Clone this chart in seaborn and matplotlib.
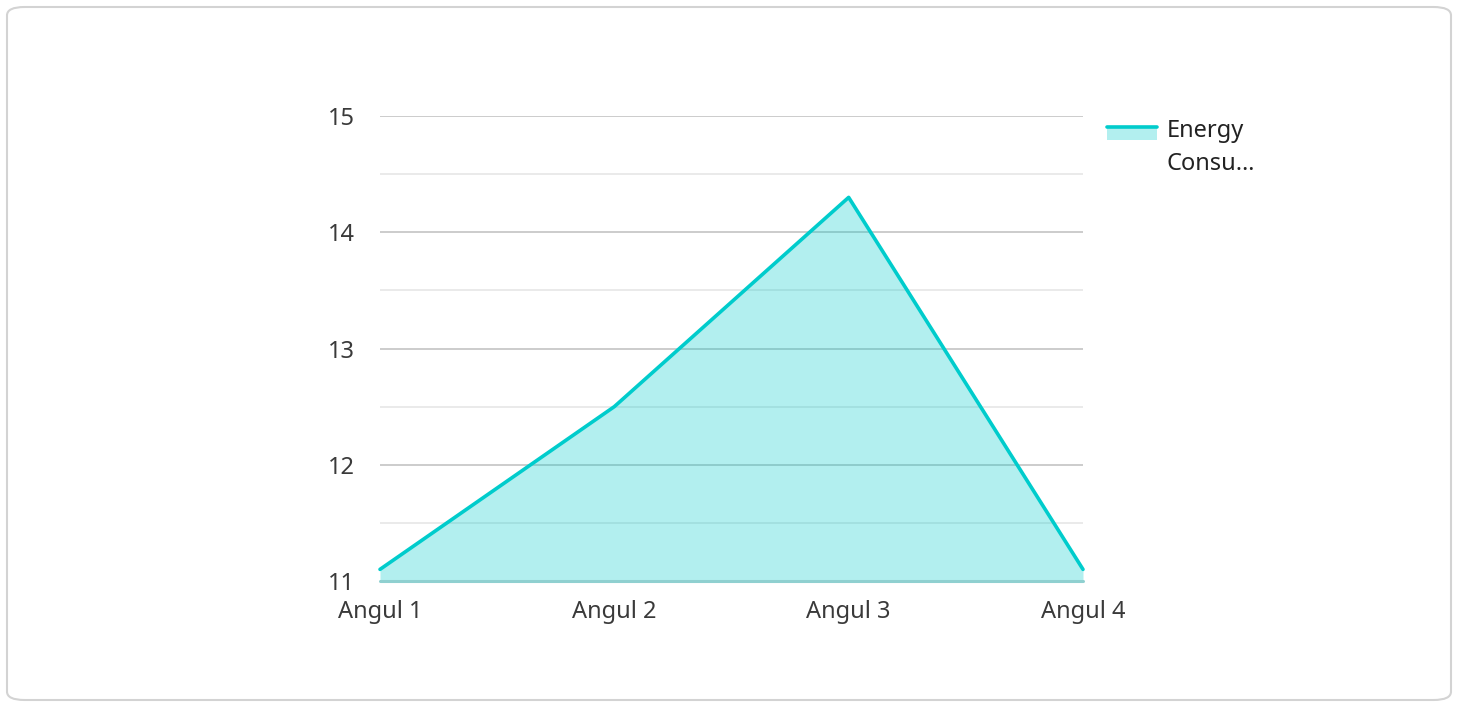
import matplotlib
matplotlib.use("Agg")
import matplotlib.pyplot as plt
import numpy as np
import pandas as pd
import seaborn as sns
from matplotlib.patches import FancyBboxPatch, Rectangle
from matplotlib.lines import Line2D
from matplotlib.ticker import MultipleLocator

categories = ['Angul 1', 'Angul 2', 'Angul 3', 'Angul 4']
energy = [11.1, 12.5, 14.3, 11.1]
series_name = 'Energy\nConsu…'

line_color = '#00CCCC'
W, H = 1458, 702

sns.set_theme(style='white')
plt.rcParams['font.family'] = ['Noto Sans', 'DejaVu Sans']

df = pd.DataFrame({'x': np.arange(len(categories)), 'y': energy})

fig = plt.figure(figsize=(W / 100, H / 100), dpi=100)
card = FancyBboxPatch((7 / W, 2 / H), 1444 / W, 693 / H,
                      boxstyle='round,pad=0,rounding_size=0.012',
                      transform=fig.transFigure, facecolor='none',
                      edgecolor='#d3d3d3', linewidth=1.5, zorder=-10)
fig.patches.append(card)

ax = fig.add_axes([380 / W, 121 / H, 703 / W, 465 / H])
ax.set_facecolor('none')

ax.fill_between(df['x'], 11, df['y'], color=line_color, alpha=0.3, linewidth=0, zorder=2)
sns.lineplot(data=df, x='x', y='y', ax=ax, color=line_color, linewidth=2.6,
             zorder=3, clip_on=False)

ax.set_xlim(0, 3)
ax.set_ylim(11, 15)
ax.yaxis.set_major_locator(MultipleLocator(1))
ax.yaxis.set_minor_locator(MultipleLocator(0.5))
ax.grid(which='major', axis='y', color='#c4c4c4', linewidth=1.2, zorder=1)
ax.grid(which='minor', axis='y', color='#e6e6e6', linewidth=1.2, zorder=1)
ax.grid(False, axis='x')
ax.axhline(11, color='#8fd0d0', linewidth=2.2, zorder=2.5, clip_on=False)
ax.set_axisbelow(True)
for s in ax.spines.values():
    s.set_visible(False)

ax.set_xticks(df['x'])
ax.set_xticklabels(categories)
ax.tick_params(axis='both', which='both', length=0, labelsize=17, labelcolor='#3a3a3a')
ax.tick_params(axis='y', pad=18)
ax.tick_params(axis='x', pad=14)
ax.set_xlabel('')
ax.set_ylabel('')
ax.get_legend() and ax.get_legend().remove()

# legend drawn by hand: filled swatch with the line on its top edge
fig.patches.append(Rectangle((1107 / W, 1 - 140 / H), 50 / W, 14 / H,
                             transform=fig.transFigure, facecolor=line_color,
                             alpha=0.3, linewidth=0))
fig.lines.append(Line2D([1107 / W, 1157 / W], [1 - 127 / H, 1 - 127 / H],
                        transform=fig.transFigure, color=line_color, linewidth=2.6))
for i, part in enumerate(series_name.split('\n')):
    fig.text(1167 / W, 1 - (137 + 33 * i) / H, part, fontsize=17,
             color='#222222', va='baseline', ha='left')

fig.savefig('out.png', dpi=100)
